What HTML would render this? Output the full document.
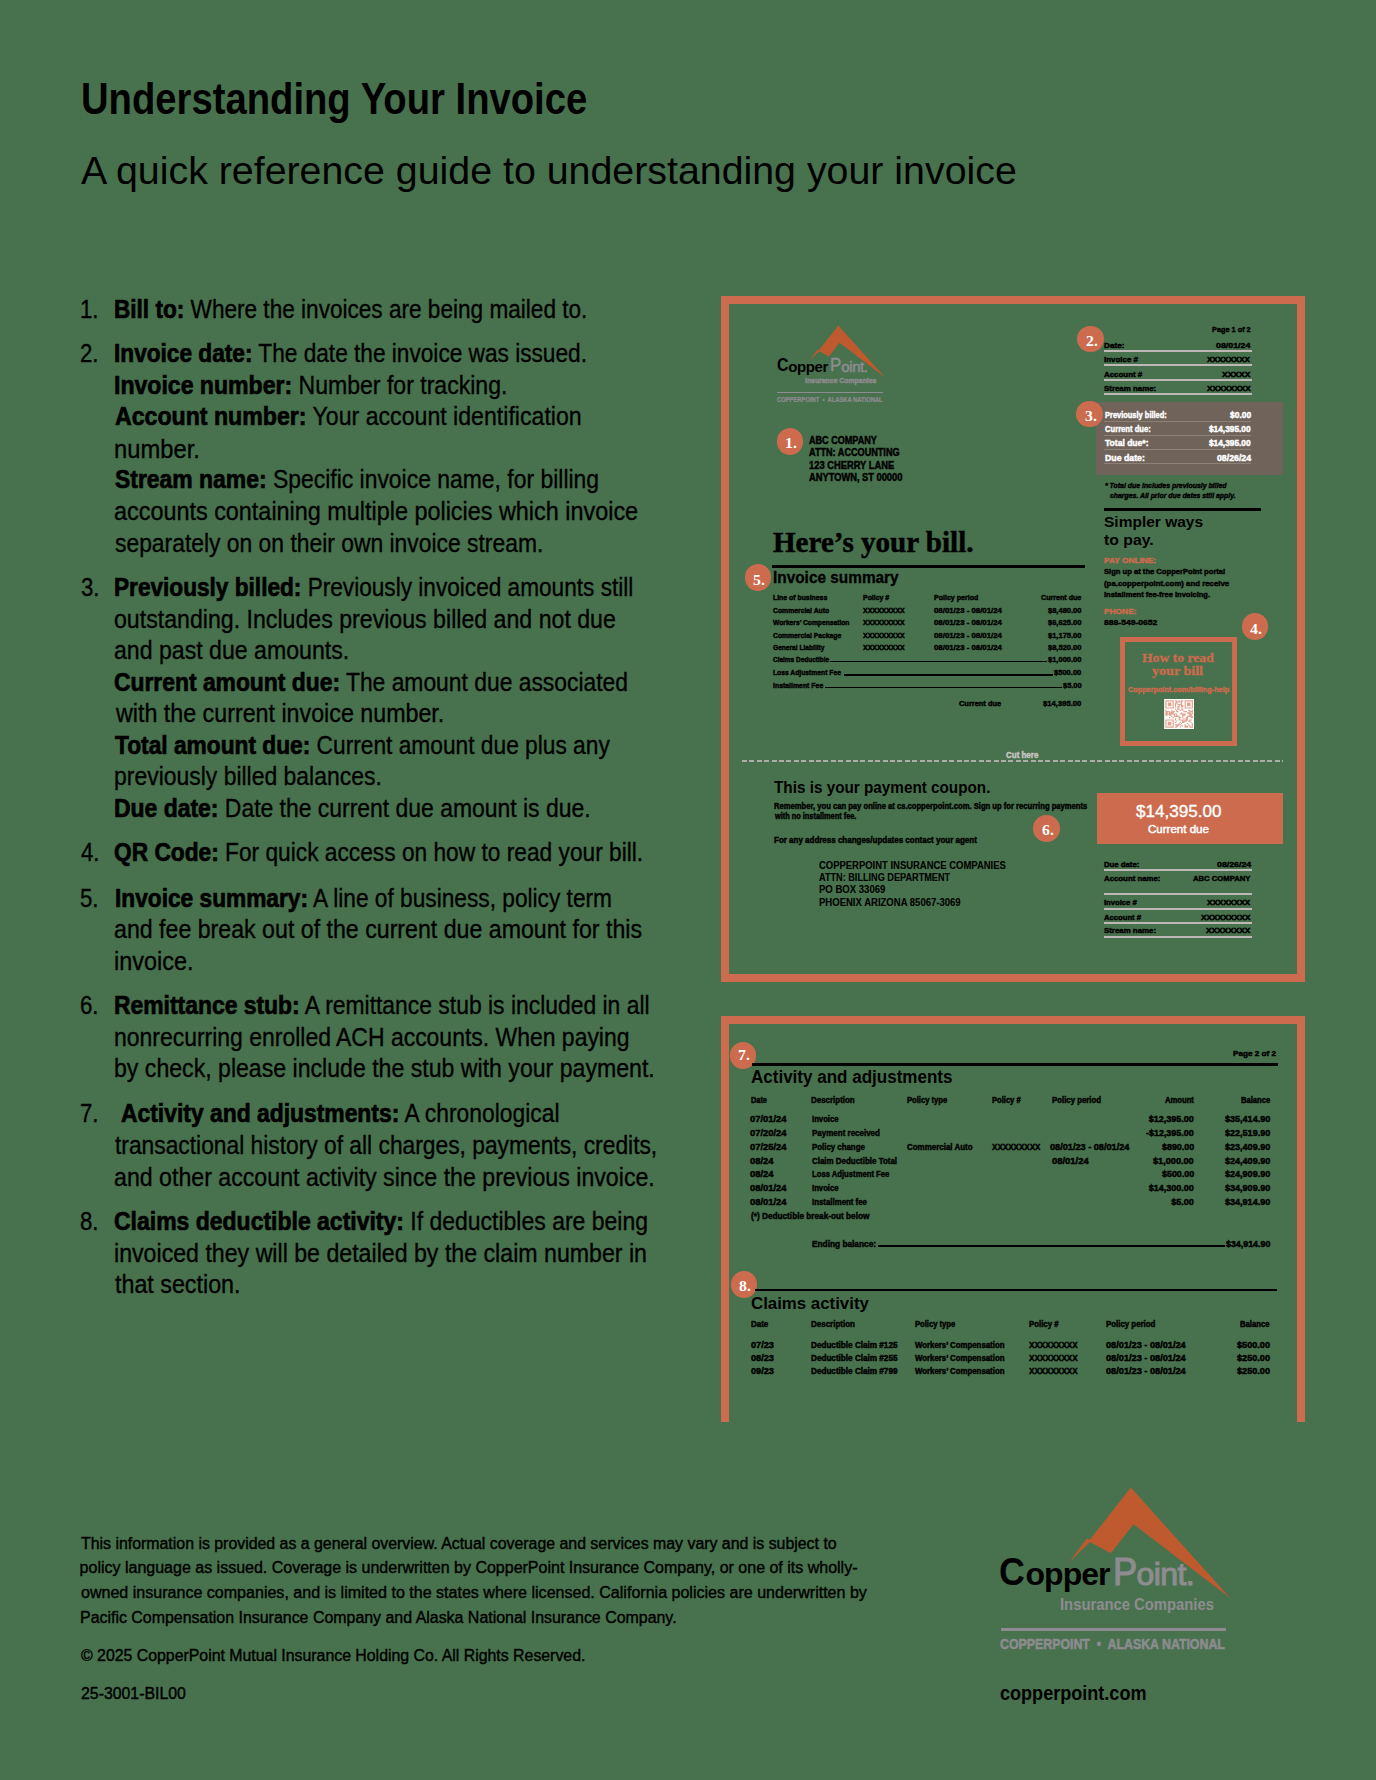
<!DOCTYPE html>
<html><head><meta charset="utf-8"><title>Understanding Your Invoice</title>
<style>
html,body{margin:0;padding:0;}
body{width:1376px;height:1780px;position:relative;overflow:hidden;background:#48724d;font-family:'Liberation Sans',sans-serif;}
.t{position:absolute;white-space:pre;line-height:1;transform-origin:0 0;}
.t b{font-weight:bold;-webkit-text-stroke:0.7px #000;}
</style></head><body>
<div style="position:absolute;left:721px;top:296px;width:584px;height:8px;background:#cd6b4e;"></div>
<div style="position:absolute;left:721px;top:296px;width:8px;height:686px;background:#cd6b4e;"></div>
<div style="position:absolute;left:1297px;top:296px;width:8px;height:686px;background:#cd6b4e;"></div>
<div style="position:absolute;left:721px;top:974px;width:584px;height:8px;background:#cd6b4e;"></div>
<svg style="position:absolute;left:804.87px;top:321.82px" width="84.74" height="58.85"><polygon points="33.33,3.58 80.13,55.55 34.60,20.81 23.92,34.46 14.12,29.24 4.38,38.70 12.52,27.64 14.12,28.06" fill="#bf5a2e"/></svg>
<div style="position:absolute;left:777.0901600000001px;top:391.59448000000003px;width:105.83583999999996px;height:1.224080000000015px;background:#8e8c91;"></div>
<div style="position:absolute;left:776.70px;top:428.20px;width:26.6px;height:26.6px;border-radius:50%;background:#cd6b4e;"></div>
<div style="position:absolute;left:1077.20px;top:325.90px;width:26.6px;height:26.6px;border-radius:50%;background:#cd6b4e;"></div>
<div style="position:absolute;left:1104px;top:350.3px;width:148px;height:2.0px;background:#bdb7b6;"></div>
<div style="position:absolute;left:1104px;top:364px;width:148px;height:2px;background:#bdb7b6;"></div>
<div style="position:absolute;left:1104px;top:379px;width:148px;height:2px;background:#bdb7b6;"></div>
<div style="position:absolute;left:1104px;top:393px;width:148px;height:2px;background:#bdb7b6;"></div>
<div style="position:absolute;left:1095.5px;top:402px;width:187.5px;height:72.69999999999999px;background:#70635a;"></div>
<div style="position:absolute;left:1076.40px;top:400.50px;width:26.6px;height:26.6px;border-radius:50%;background:#cd6b4e;"></div>
<div style="position:absolute;left:1104px;top:420.5px;width:147px;height:1.1999999999999886px;background:#8d827a;"></div>
<div style="position:absolute;left:1104px;top:434.5px;width:147px;height:1.1999999999999886px;background:#8d827a;"></div>
<div style="position:absolute;left:1104px;top:449.2px;width:147px;height:1.1999999999999886px;background:#8d827a;"></div>
<div style="position:absolute;left:1104px;top:463px;width:147px;height:1.1999999999999886px;background:#8d827a;"></div>
<div style="position:absolute;left:1104px;top:508px;width:156.5999999999999px;height:3px;background:#000;"></div>
<div style="position:absolute;left:1241.50px;top:613.40px;width:26.6px;height:26.6px;border-radius:50%;background:#cd6b4e;"></div>
<div style="position:absolute;left:1120.2px;top:637.1px;width:106.8px;height:98.7px;border:5px solid #cd6b4e;"></div>
<svg style="position:absolute;left:1163.6px;top:699.2px" width="30.3" height="30" viewBox="0 0 30.3 30.3"><rect width="30.3" height="30.3" fill="#fff"/><path d="M1.21 1.21h1.21v1.21h-1.21zM2.42 1.21h1.21v1.21h-1.21zM3.64 1.21h1.21v1.21h-1.21zM4.85 1.21h1.21v1.21h-1.21zM6.06 1.21h1.21v1.21h-1.21zM7.27 1.21h1.21v1.21h-1.21zM8.48 1.21h1.21v1.21h-1.21zM1.21 2.42h1.21v1.21h-1.21zM8.48 2.42h1.21v1.21h-1.21zM1.21 3.64h1.21v1.21h-1.21zM3.64 3.64h1.21v1.21h-1.21zM4.85 3.64h1.21v1.21h-1.21zM6.06 3.64h1.21v1.21h-1.21zM8.48 3.64h1.21v1.21h-1.21zM1.21 4.85h1.21v1.21h-1.21zM3.64 4.85h1.21v1.21h-1.21zM4.85 4.85h1.21v1.21h-1.21zM6.06 4.85h1.21v1.21h-1.21zM8.48 4.85h1.21v1.21h-1.21zM1.21 6.06h1.21v1.21h-1.21zM3.64 6.06h1.21v1.21h-1.21zM4.85 6.06h1.21v1.21h-1.21zM6.06 6.06h1.21v1.21h-1.21zM8.48 6.06h1.21v1.21h-1.21zM1.21 7.27h1.21v1.21h-1.21zM8.48 7.27h1.21v1.21h-1.21zM1.21 8.48h1.21v1.21h-1.21zM2.42 8.48h1.21v1.21h-1.21zM3.64 8.48h1.21v1.21h-1.21zM4.85 8.48h1.21v1.21h-1.21zM6.06 8.48h1.21v1.21h-1.21zM7.27 8.48h1.21v1.21h-1.21zM8.48 8.48h1.21v1.21h-1.21zM20.60 1.21h1.21v1.21h-1.21zM21.82 1.21h1.21v1.21h-1.21zM23.03 1.21h1.21v1.21h-1.21zM24.24 1.21h1.21v1.21h-1.21zM25.45 1.21h1.21v1.21h-1.21zM26.66 1.21h1.21v1.21h-1.21zM27.88 1.21h1.21v1.21h-1.21zM20.60 2.42h1.21v1.21h-1.21zM27.88 2.42h1.21v1.21h-1.21zM20.60 3.64h1.21v1.21h-1.21zM23.03 3.64h1.21v1.21h-1.21zM24.24 3.64h1.21v1.21h-1.21zM25.45 3.64h1.21v1.21h-1.21zM27.88 3.64h1.21v1.21h-1.21zM20.60 4.85h1.21v1.21h-1.21zM23.03 4.85h1.21v1.21h-1.21zM24.24 4.85h1.21v1.21h-1.21zM25.45 4.85h1.21v1.21h-1.21zM27.88 4.85h1.21v1.21h-1.21zM20.60 6.06h1.21v1.21h-1.21zM23.03 6.06h1.21v1.21h-1.21zM24.24 6.06h1.21v1.21h-1.21zM25.45 6.06h1.21v1.21h-1.21zM27.88 6.06h1.21v1.21h-1.21zM20.60 7.27h1.21v1.21h-1.21zM27.88 7.27h1.21v1.21h-1.21zM20.60 8.48h1.21v1.21h-1.21zM21.82 8.48h1.21v1.21h-1.21zM23.03 8.48h1.21v1.21h-1.21zM24.24 8.48h1.21v1.21h-1.21zM25.45 8.48h1.21v1.21h-1.21zM26.66 8.48h1.21v1.21h-1.21zM27.88 8.48h1.21v1.21h-1.21zM1.21 20.60h1.21v1.21h-1.21zM2.42 20.60h1.21v1.21h-1.21zM3.64 20.60h1.21v1.21h-1.21zM4.85 20.60h1.21v1.21h-1.21zM6.06 20.60h1.21v1.21h-1.21zM7.27 20.60h1.21v1.21h-1.21zM8.48 20.60h1.21v1.21h-1.21zM1.21 21.82h1.21v1.21h-1.21zM8.48 21.82h1.21v1.21h-1.21zM1.21 23.03h1.21v1.21h-1.21zM3.64 23.03h1.21v1.21h-1.21zM4.85 23.03h1.21v1.21h-1.21zM6.06 23.03h1.21v1.21h-1.21zM8.48 23.03h1.21v1.21h-1.21zM1.21 24.24h1.21v1.21h-1.21zM3.64 24.24h1.21v1.21h-1.21zM4.85 24.24h1.21v1.21h-1.21zM6.06 24.24h1.21v1.21h-1.21zM8.48 24.24h1.21v1.21h-1.21zM1.21 25.45h1.21v1.21h-1.21zM3.64 25.45h1.21v1.21h-1.21zM4.85 25.45h1.21v1.21h-1.21zM6.06 25.45h1.21v1.21h-1.21zM8.48 25.45h1.21v1.21h-1.21zM1.21 26.66h1.21v1.21h-1.21zM8.48 26.66h1.21v1.21h-1.21zM1.21 27.88h1.21v1.21h-1.21zM2.42 27.88h1.21v1.21h-1.21zM3.64 27.88h1.21v1.21h-1.21zM4.85 27.88h1.21v1.21h-1.21zM6.06 27.88h1.21v1.21h-1.21zM7.27 27.88h1.21v1.21h-1.21zM8.48 27.88h1.21v1.21h-1.21zM10.91 1.21h1.21v1.21h-1.21zM12.12 1.21h1.21v1.21h-1.21zM14.54 1.21h1.21v1.21h-1.21zM16.97 1.21h1.21v1.21h-1.21zM18.18 1.21h1.21v1.21h-1.21zM12.12 2.42h1.21v1.21h-1.21zM13.33 2.42h1.21v1.21h-1.21zM14.54 2.42h1.21v1.21h-1.21zM15.76 2.42h1.21v1.21h-1.21zM16.97 2.42h1.21v1.21h-1.21zM10.91 3.64h1.21v1.21h-1.21zM12.12 3.64h1.21v1.21h-1.21zM16.97 3.64h1.21v1.21h-1.21zM10.91 4.85h1.21v1.21h-1.21zM13.33 4.85h1.21v1.21h-1.21zM14.54 4.85h1.21v1.21h-1.21zM15.76 4.85h1.21v1.21h-1.21zM16.97 4.85h1.21v1.21h-1.21zM10.91 6.06h1.21v1.21h-1.21zM14.54 6.06h1.21v1.21h-1.21zM16.97 6.06h1.21v1.21h-1.21zM18.18 6.06h1.21v1.21h-1.21zM10.91 7.27h1.21v1.21h-1.21zM13.33 7.27h1.21v1.21h-1.21zM14.54 7.27h1.21v1.21h-1.21zM16.97 7.27h1.21v1.21h-1.21zM18.18 7.27h1.21v1.21h-1.21zM13.33 8.48h1.21v1.21h-1.21zM10.91 9.70h1.21v1.21h-1.21zM13.33 9.70h1.21v1.21h-1.21zM14.54 9.70h1.21v1.21h-1.21zM16.97 9.70h1.21v1.21h-1.21zM18.18 9.70h1.21v1.21h-1.21zM1.21 10.91h1.21v1.21h-1.21zM7.27 10.91h1.21v1.21h-1.21zM12.12 10.91h1.21v1.21h-1.21zM15.76 10.91h1.21v1.21h-1.21zM18.18 10.91h1.21v1.21h-1.21zM24.24 10.91h1.21v1.21h-1.21zM25.45 10.91h1.21v1.21h-1.21zM27.88 10.91h1.21v1.21h-1.21zM1.21 12.12h1.21v1.21h-1.21zM2.42 12.12h1.21v1.21h-1.21zM3.64 12.12h1.21v1.21h-1.21zM4.85 12.12h1.21v1.21h-1.21zM7.27 12.12h1.21v1.21h-1.21zM8.48 12.12h1.21v1.21h-1.21zM9.70 12.12h1.21v1.21h-1.21zM12.12 12.12h1.21v1.21h-1.21zM13.33 12.12h1.21v1.21h-1.21zM19.39 12.12h1.21v1.21h-1.21zM20.60 12.12h1.21v1.21h-1.21zM21.82 12.12h1.21v1.21h-1.21zM25.45 12.12h1.21v1.21h-1.21zM26.66 12.12h1.21v1.21h-1.21zM27.88 12.12h1.21v1.21h-1.21zM1.21 13.33h1.21v1.21h-1.21zM2.42 13.33h1.21v1.21h-1.21zM4.85 13.33h1.21v1.21h-1.21zM6.06 13.33h1.21v1.21h-1.21zM7.27 13.33h1.21v1.21h-1.21zM8.48 13.33h1.21v1.21h-1.21zM16.97 13.33h1.21v1.21h-1.21zM23.03 13.33h1.21v1.21h-1.21zM24.24 13.33h1.21v1.21h-1.21zM25.45 13.33h1.21v1.21h-1.21zM27.88 13.33h1.21v1.21h-1.21zM1.21 14.54h1.21v1.21h-1.21zM2.42 14.54h1.21v1.21h-1.21zM3.64 14.54h1.21v1.21h-1.21zM4.85 14.54h1.21v1.21h-1.21zM6.06 14.54h1.21v1.21h-1.21zM7.27 14.54h1.21v1.21h-1.21zM8.48 14.54h1.21v1.21h-1.21zM9.70 14.54h1.21v1.21h-1.21zM10.91 14.54h1.21v1.21h-1.21zM12.12 14.54h1.21v1.21h-1.21zM15.76 14.54h1.21v1.21h-1.21zM16.97 14.54h1.21v1.21h-1.21zM18.18 14.54h1.21v1.21h-1.21zM19.39 14.54h1.21v1.21h-1.21zM20.60 14.54h1.21v1.21h-1.21zM24.24 14.54h1.21v1.21h-1.21zM25.45 14.54h1.21v1.21h-1.21zM26.66 14.54h1.21v1.21h-1.21zM27.88 14.54h1.21v1.21h-1.21zM1.21 15.76h1.21v1.21h-1.21zM2.42 15.76h1.21v1.21h-1.21zM4.85 15.76h1.21v1.21h-1.21zM6.06 15.76h1.21v1.21h-1.21zM9.70 15.76h1.21v1.21h-1.21zM12.12 15.76h1.21v1.21h-1.21zM18.18 15.76h1.21v1.21h-1.21zM19.39 15.76h1.21v1.21h-1.21zM20.60 15.76h1.21v1.21h-1.21zM25.45 15.76h1.21v1.21h-1.21zM26.66 15.76h1.21v1.21h-1.21zM7.27 16.97h1.21v1.21h-1.21zM9.70 16.97h1.21v1.21h-1.21zM10.91 16.97h1.21v1.21h-1.21zM12.12 16.97h1.21v1.21h-1.21zM13.33 16.97h1.21v1.21h-1.21zM14.54 16.97h1.21v1.21h-1.21zM18.18 16.97h1.21v1.21h-1.21zM23.03 16.97h1.21v1.21h-1.21zM24.24 16.97h1.21v1.21h-1.21zM25.45 16.97h1.21v1.21h-1.21zM26.66 16.97h1.21v1.21h-1.21zM27.88 16.97h1.21v1.21h-1.21zM4.85 18.18h1.21v1.21h-1.21zM8.48 18.18h1.21v1.21h-1.21zM14.54 18.18h1.21v1.21h-1.21zM15.76 18.18h1.21v1.21h-1.21zM18.18 18.18h1.21v1.21h-1.21zM21.82 18.18h1.21v1.21h-1.21zM23.03 18.18h1.21v1.21h-1.21zM26.66 18.18h1.21v1.21h-1.21zM27.88 18.18h1.21v1.21h-1.21zM10.91 19.39h1.21v1.21h-1.21zM14.54 19.39h1.21v1.21h-1.21zM19.39 19.39h1.21v1.21h-1.21zM21.82 19.39h1.21v1.21h-1.21zM23.03 19.39h1.21v1.21h-1.21zM10.91 20.60h1.21v1.21h-1.21zM14.54 20.60h1.21v1.21h-1.21zM15.76 20.60h1.21v1.21h-1.21zM16.97 20.60h1.21v1.21h-1.21zM18.18 20.60h1.21v1.21h-1.21zM20.60 20.60h1.21v1.21h-1.21zM21.82 20.60h1.21v1.21h-1.21zM23.03 20.60h1.21v1.21h-1.21zM25.45 20.60h1.21v1.21h-1.21zM26.66 20.60h1.21v1.21h-1.21zM12.12 21.82h1.21v1.21h-1.21zM18.18 21.82h1.21v1.21h-1.21zM19.39 21.82h1.21v1.21h-1.21zM20.60 21.82h1.21v1.21h-1.21zM21.82 21.82h1.21v1.21h-1.21zM24.24 21.82h1.21v1.21h-1.21zM25.45 21.82h1.21v1.21h-1.21zM10.91 23.03h1.21v1.21h-1.21zM15.76 23.03h1.21v1.21h-1.21zM18.18 23.03h1.21v1.21h-1.21zM19.39 23.03h1.21v1.21h-1.21zM26.66 23.03h1.21v1.21h-1.21zM14.54 24.24h1.21v1.21h-1.21zM16.97 24.24h1.21v1.21h-1.21zM23.03 24.24h1.21v1.21h-1.21zM27.88 24.24h1.21v1.21h-1.21zM10.91 25.45h1.21v1.21h-1.21zM12.12 25.45h1.21v1.21h-1.21zM13.33 25.45h1.21v1.21h-1.21zM14.54 25.45h1.21v1.21h-1.21zM15.76 25.45h1.21v1.21h-1.21zM20.60 25.45h1.21v1.21h-1.21zM24.24 25.45h1.21v1.21h-1.21zM27.88 25.45h1.21v1.21h-1.21zM12.12 26.66h1.21v1.21h-1.21zM13.33 26.66h1.21v1.21h-1.21zM16.97 26.66h1.21v1.21h-1.21zM18.18 26.66h1.21v1.21h-1.21zM20.60 26.66h1.21v1.21h-1.21zM21.82 26.66h1.21v1.21h-1.21zM23.03 26.66h1.21v1.21h-1.21zM25.45 26.66h1.21v1.21h-1.21zM27.88 26.66h1.21v1.21h-1.21zM10.91 27.88h1.21v1.21h-1.21zM12.12 27.88h1.21v1.21h-1.21zM15.76 27.88h1.21v1.21h-1.21zM20.60 27.88h1.21v1.21h-1.21zM21.82 27.88h1.21v1.21h-1.21zM23.03 27.88h1.21v1.21h-1.21zM25.45 27.88h1.21v1.21h-1.21zM26.66 27.88h1.21v1.21h-1.21zM27.88 27.88h1.21v1.21h-1.21z" fill="#e2a48f"/></svg>
<div style="position:absolute;left:772.2px;top:565px;width:312.79999999999995px;height:3px;background:#000;"></div>
<div style="position:absolute;left:744.90px;top:564.30px;width:26.6px;height:26.6px;border-radius:50%;background:#cd6b4e;"></div>
<div style="position:absolute;left:830px;top:660.9px;width:217px;height:1.6000000000000227px;background:#000;"></div>
<div style="position:absolute;left:844px;top:674.1px;width:209px;height:1.6000000000000227px;background:#000;"></div>
<div style="position:absolute;left:825px;top:686.5px;width:237px;height:1.6000000000000227px;background:#000;"></div>
<div style="position:absolute;left:742px;top:760px;width:541px;height:2px;background:repeating-linear-gradient(90deg,#bdb8b6 0 5px,transparent 5px 7.4px);opacity:0.85;"></div>
<div style="position:absolute;left:1033.40px;top:815.00px;width:26.6px;height:26.6px;border-radius:50%;background:#cd6b4e;"></div>
<div style="position:absolute;left:1097px;top:793px;width:186.29999999999995px;height:50.89999999999998px;background:#cd6b4e;"></div>
<div style="position:absolute;left:1104px;top:869px;width:147.79999999999995px;height:2px;background:#bdb7b6;"></div>
<div style="position:absolute;left:1104px;top:893px;width:147.79999999999995px;height:2px;background:#bdb7b6;"></div>
<div style="position:absolute;left:1104px;top:908.3px;width:147.79999999999995px;height:2.0px;background:#bdb7b6;"></div>
<div style="position:absolute;left:1104px;top:922px;width:147.79999999999995px;height:2px;background:#bdb7b6;"></div>
<div style="position:absolute;left:1104px;top:936px;width:147.79999999999995px;height:2px;background:#bdb7b6;"></div>
<div style="position:absolute;left:721px;top:1016px;width:584px;height:8px;background:#cd6b4e;"></div>
<div style="position:absolute;left:721px;top:1016px;width:8px;height:406px;background:#cd6b4e;"></div>
<div style="position:absolute;left:1297px;top:1016px;width:8px;height:406px;background:#cd6b4e;"></div>
<div style="position:absolute;left:729.90px;top:1042.10px;width:26.6px;height:26.6px;border-radius:50%;background:#cd6b4e;"></div>
<div style="position:absolute;left:751.7px;top:1063px;width:525.8999999999999px;height:3px;background:#000;"></div>
<div style="position:absolute;left:878px;top:1245px;width:347px;height:1.599999999999909px;background:#000;"></div>
<div style="position:absolute;left:730.80px;top:1271.20px;width:26.6px;height:26.6px;border-radius:50%;background:#cd6b4e;"></div>
<div style="position:absolute;left:754.6px;top:1289px;width:522.9px;height:2px;background:#000;"></div>
<svg style="position:absolute;left:1060.00px;top:1480.00px" width="180.00" height="125.00"><polygon points="70.80,7.60 170.20,118.00 73.50,44.20 50.80,73.20 30.00,62.10 9.30,82.20 26.60,58.70 30.00,59.60" fill="#bf5a2e"/></svg>
<div style="position:absolute;left:1001.0px;top:1628.2px;width:224.79999999999995px;height:2.599999999999909px;background:#8e8c91;"></div>
<div class="t" style="left:80.84px;top:78.08px;font-size:43.5px;font-family:'Liberation Sans',sans-serif;font-weight:bold;color:#000;transform:scaleX(0.8788);">Understanding Your Invoice</div>
<div class="t" style="left:81.20px;top:151.06px;font-size:39.5px;font-family:'Liberation Sans',sans-serif;font-weight:normal;color:#000;transform:scaleX(0.9957);">A quick reference guide to understanding your invoice</div>
<div class="t" style="left:79.63px;top:297.11px;font-size:25.5px;font-family:'Liberation Sans',sans-serif;font-weight:normal;color:#000;transform:scaleX(0.8700);-webkit-text-stroke:0.35px #000;">1.</div>
<div class="t" style="left:114.11px;top:297.11px;font-size:25.5px;font-family:'Liberation Sans',sans-serif;font-weight:normal;color:#000;transform:scaleX(0.8859);-webkit-text-stroke:0.35px #000;"><b>Bill to:</b> Where the invoices are being mailed to.</div>
<div class="t" style="left:79.63px;top:341.31px;font-size:25.5px;font-family:'Liberation Sans',sans-serif;font-weight:normal;color:#000;transform:scaleX(0.8700);-webkit-text-stroke:0.35px #000;">2.</div>
<div class="t" style="left:114.11px;top:341.31px;font-size:25.5px;font-family:'Liberation Sans',sans-serif;font-weight:normal;color:#000;transform:scaleX(0.8882);-webkit-text-stroke:0.35px #000;"><b>Invoice date:</b> The date the invoice was issued.</div>
<div class="t" style="left:114.10px;top:373.01px;font-size:25.5px;font-family:'Liberation Sans',sans-serif;font-weight:normal;color:#000;transform:scaleX(0.9043);-webkit-text-stroke:0.35px #000;"><b>Invoice number:</b> Number for tracking.</div>
<div class="t" style="left:115.00px;top:403.71px;font-size:25.5px;font-family:'Liberation Sans',sans-serif;font-weight:normal;color:#000;transform:scaleX(0.9071);-webkit-text-stroke:0.35px #000;"><b>Account number:</b> Your account identification</div>
<div class="t" style="left:114.07px;top:436.71px;font-size:25.5px;font-family:'Liberation Sans',sans-serif;font-weight:normal;color:#000;transform:scaleX(0.9320);-webkit-text-stroke:0.35px #000;">number.</div>
<div class="t" style="left:115.00px;top:467.31px;font-size:25.5px;font-family:'Liberation Sans',sans-serif;font-weight:normal;color:#000;transform:scaleX(0.8988);-webkit-text-stroke:0.35px #000;"><b>Stream name:</b> Specific invoice name, for billing</div>
<div class="t" style="left:114.08px;top:499.01px;font-size:25.5px;font-family:'Liberation Sans',sans-serif;font-weight:normal;color:#000;transform:scaleX(0.9175);-webkit-text-stroke:0.35px #000;">accounts containing multiple policies which invoice</div>
<div class="t" style="left:115.00px;top:531.11px;font-size:25.5px;font-family:'Liberation Sans',sans-serif;font-weight:normal;color:#000;transform:scaleX(0.8966);-webkit-text-stroke:0.35px #000;">separately on on their own invoice stream.</div>
<div class="t" style="left:80.50px;top:575.41px;font-size:25.5px;font-family:'Liberation Sans',sans-serif;font-weight:normal;color:#000;transform:scaleX(0.8700);-webkit-text-stroke:0.35px #000;">3.</div>
<div class="t" style="left:114.11px;top:575.41px;font-size:25.5px;font-family:'Liberation Sans',sans-serif;font-weight:normal;color:#000;transform:scaleX(0.8873);-webkit-text-stroke:0.35px #000;"><b>Previously billed:</b> Previously invoiced amounts still</div>
<div class="t" style="left:114.09px;top:607.01px;font-size:25.5px;font-family:'Liberation Sans',sans-serif;font-weight:normal;color:#000;transform:scaleX(0.9077);-webkit-text-stroke:0.35px #000;">outstanding. Includes previous billed and not due</div>
<div class="t" style="left:114.09px;top:638.11px;font-size:25.5px;font-family:'Liberation Sans',sans-serif;font-weight:normal;color:#000;transform:scaleX(0.9066);-webkit-text-stroke:0.35px #000;">and past due amounts.</div>
<div class="t" style="left:114.10px;top:669.71px;font-size:25.5px;font-family:'Liberation Sans',sans-serif;font-weight:normal;color:#000;transform:scaleX(0.8962);-webkit-text-stroke:0.35px #000;"><b>Current amount due:</b> The amount due associated</div>
<div class="t" style="left:115.91px;top:701.31px;font-size:25.5px;font-family:'Liberation Sans',sans-serif;font-weight:normal;color:#000;transform:scaleX(0.9119);-webkit-text-stroke:0.35px #000;">with the current invoice number.</div>
<div class="t" style="left:115.00px;top:733.01px;font-size:25.5px;font-family:'Liberation Sans',sans-serif;font-weight:normal;color:#000;transform:scaleX(0.8914);-webkit-text-stroke:0.35px #000;"><b>Total amount due:</b> Current amount due plus any</div>
<div class="t" style="left:114.10px;top:764.21px;font-size:25.5px;font-family:'Liberation Sans',sans-serif;font-weight:normal;color:#000;transform:scaleX(0.8996);-webkit-text-stroke:0.35px #000;">previously billed balances.</div>
<div class="t" style="left:114.10px;top:796.01px;font-size:25.5px;font-family:'Liberation Sans',sans-serif;font-weight:normal;color:#000;transform:scaleX(0.8990);-webkit-text-stroke:0.35px #000;"><b>Due date:</b> Date the current due amount is due.</div>
<div class="t" style="left:80.50px;top:840.01px;font-size:25.5px;font-family:'Liberation Sans',sans-serif;font-weight:normal;color:#000;transform:scaleX(0.8700);-webkit-text-stroke:0.35px #000;">4.</div>
<div class="t" style="left:114.11px;top:840.01px;font-size:25.5px;font-family:'Liberation Sans',sans-serif;font-weight:normal;color:#000;transform:scaleX(0.8911);-webkit-text-stroke:0.35px #000;"><b>QR Code:</b> For quick access on how to read your bill.</div>
<div class="t" style="left:79.63px;top:886.31px;font-size:25.5px;font-family:'Liberation Sans',sans-serif;font-weight:normal;color:#000;transform:scaleX(0.8700);-webkit-text-stroke:0.35px #000;">5.</div>
<div class="t" style="left:115.11px;top:886.31px;font-size:25.5px;font-family:'Liberation Sans',sans-serif;font-weight:normal;color:#000;transform:scaleX(0.8900);-webkit-text-stroke:0.35px #000;"><b>Invoice summary:</b> A line of business, policy term</div>
<div class="t" style="left:114.09px;top:917.31px;font-size:25.5px;font-family:'Liberation Sans',sans-serif;font-weight:normal;color:#000;transform:scaleX(0.9085);-webkit-text-stroke:0.35px #000;">and fee break out of the current due amount for this</div>
<div class="t" style="left:114.08px;top:948.51px;font-size:25.5px;font-family:'Liberation Sans',sans-serif;font-weight:normal;color:#000;transform:scaleX(0.9187);-webkit-text-stroke:0.35px #000;">invoice.</div>
<div class="t" style="left:79.63px;top:993.31px;font-size:25.5px;font-family:'Liberation Sans',sans-serif;font-weight:normal;color:#000;transform:scaleX(0.8700);-webkit-text-stroke:0.35px #000;">6.</div>
<div class="t" style="left:114.10px;top:993.31px;font-size:25.5px;font-family:'Liberation Sans',sans-serif;font-weight:normal;color:#000;transform:scaleX(0.8976);-webkit-text-stroke:0.35px #000;"><b>Remittance stub:</b> A remittance stub is included in all</div>
<div class="t" style="left:114.10px;top:1025.41px;font-size:25.5px;font-family:'Liberation Sans',sans-serif;font-weight:normal;color:#000;transform:scaleX(0.9002);-webkit-text-stroke:0.35px #000;">nonrecurring enrolled ACH accounts. When paying</div>
<div class="t" style="left:114.09px;top:1055.91px;font-size:25.5px;font-family:'Liberation Sans',sans-serif;font-weight:normal;color:#000;transform:scaleX(0.9062);-webkit-text-stroke:0.35px #000;">by check, please include the stub with your payment.</div>
<div class="t" style="left:79.63px;top:1101.21px;font-size:25.5px;font-family:'Liberation Sans',sans-serif;font-weight:normal;color:#000;transform:scaleX(0.8700);-webkit-text-stroke:0.35px #000;">7.</div>
<div class="t" style="left:120.50px;top:1101.21px;font-size:25.5px;font-family:'Liberation Sans',sans-serif;font-weight:normal;color:#000;transform:scaleX(0.8968);-webkit-text-stroke:0.35px #000;"><b>Activity and adjustments:</b> A chronological</div>
<div class="t" style="left:115.00px;top:1133.21px;font-size:25.5px;font-family:'Liberation Sans',sans-serif;font-weight:normal;color:#000;transform:scaleX(0.8938);-webkit-text-stroke:0.35px #000;">transactional history of all charges, payments, credits,</div>
<div class="t" style="left:114.09px;top:1164.81px;font-size:25.5px;font-family:'Liberation Sans',sans-serif;font-weight:normal;color:#000;transform:scaleX(0.9084);-webkit-text-stroke:0.35px #000;">and other account activity since the previous invoice.</div>
<div class="t" style="left:79.63px;top:1209.31px;font-size:25.5px;font-family:'Liberation Sans',sans-serif;font-weight:normal;color:#000;transform:scaleX(0.8700);-webkit-text-stroke:0.35px #000;">8.</div>
<div class="t" style="left:114.10px;top:1209.31px;font-size:25.5px;font-family:'Liberation Sans',sans-serif;font-weight:normal;color:#000;transform:scaleX(0.9013);-webkit-text-stroke:0.35px #000;"><b>Claims deductible activity:</b> If deductibles are being</div>
<div class="t" style="left:114.09px;top:1241.21px;font-size:25.5px;font-family:'Liberation Sans',sans-serif;font-weight:normal;color:#000;transform:scaleX(0.9083);-webkit-text-stroke:0.35px #000;">invoiced they will be detailed by the claim number in</div>
<div class="t" style="left:115.00px;top:1271.81px;font-size:25.5px;font-family:'Liberation Sans',sans-serif;font-weight:normal;color:#000;transform:scaleX(0.9128);-webkit-text-stroke:0.35px #000;">that section.</div>
<div class="t" style="left:80.60px;top:1535.86px;font-size:16px;font-family:'Liberation Sans',sans-serif;font-weight:normal;color:#000;transform:scaleX(0.9926);-webkit-text-stroke:0.4px #000;">This information is provided as a general overview. Actual coverage and services may vary and is subject to</div>
<div class="t" style="left:79.60px;top:1559.96px;font-size:16px;font-family:'Liberation Sans',sans-serif;font-weight:normal;color:#000;-webkit-text-stroke:0.4px #000;">policy language as issued. Coverage is underwritten by CopperPoint Insurance Company, or one of its wholly-</div>
<div class="t" style="left:80.60px;top:1585.36px;font-size:16px;font-family:'Liberation Sans',sans-serif;font-weight:normal;color:#000;transform:scaleX(1.0030);-webkit-text-stroke:0.4px #000;">owned insurance companies, and is limited to the states where licensed. California policies are underwritten by</div>
<div class="t" style="left:79.60px;top:1610.06px;font-size:16px;font-family:'Liberation Sans',sans-serif;font-weight:normal;color:#000;transform:scaleX(0.9957);-webkit-text-stroke:0.4px #000;">Pacific Compensation Insurance Company and Alaska National Insurance Company.</div>
<div class="t" style="left:80.60px;top:1648.36px;font-size:16px;font-family:'Liberation Sans',sans-serif;font-weight:normal;color:#000;transform:scaleX(0.9910);-webkit-text-stroke:0.4px #000;">© 2025 CopperPoint Mutual Insurance Holding Co. All Rights Reserved.</div>
<div class="t" style="left:80.60px;top:1686.36px;font-size:16px;font-family:'Liberation Sans',sans-serif;font-weight:normal;color:#000;transform:scaleX(0.9909);-webkit-text-stroke:0.4px #000;">25-3001-BIL00</div>
<div class="t" style="left:776.62px;top:356.78px;font-size:17.8904px;font-family:'Liberation Sans',sans-serif;font-weight:bold;color:#000;transform:scaleX(0.8873);">C</div>
<div class="t" style="left:788.30px;top:359.17px;font-size:15.0656px;font-family:'Liberation Sans',sans-serif;font-weight:bold;color:#000;letter-spacing:-0.458px;">opper</div>
<div class="t" style="left:830.01px;top:356.78px;font-size:17.8904px;font-family:'Liberation Sans',sans-serif;font-weight:normal;color:#8e8c91;transform:scaleX(0.9416);-webkit-text-stroke:0.52px #8e8c91;">P</div>
<div class="t" style="left:841.35px;top:359.17px;font-size:15.0656px;font-family:'Liberation Sans',sans-serif;font-weight:normal;color:#8e8c91;letter-spacing:-0.436px;-webkit-text-stroke:0.52px #8e8c91;">oint.</div>
<div class="t" style="left:805.43px;top:376.96px;font-size:8.0036px;font-family:'Liberation Sans',sans-serif;font-weight:bold;color:#8e8c91;transform:scaleX(0.8585);-webkit-text-stroke:0.45px #8e8c91;">Insurance Companies</div>
<div class="t" style="left:776.81px;top:396.55px;font-size:6.49704px;font-family:'Liberation Sans',sans-serif;font-weight:bold;color:#8e8c91;transform:scaleX(0.8951);-webkit-text-stroke:0.24px #8e8c91;">COPPERPOINT  •  ALASKA NATIONAL</div>
<div class="t" style="left:784.50px;top:436.47px;font-size:14.6px;font-family:'Liberation Serif',serif;font-weight:bold;color:#fff;transform:scaleX(1.0800);">1.</div>
<div class="t" style="left:809.20px;top:435.83px;font-size:10px;font-family:'Liberation Sans',sans-serif;font-weight:bold;color:#000;transform:scaleX(0.9076);-webkit-text-stroke:0.45px #000;">ABC COMPANY</div>
<div class="t" style="left:809.20px;top:448.23px;font-size:10px;font-family:'Liberation Sans',sans-serif;font-weight:bold;color:#000;transform:scaleX(0.9108);-webkit-text-stroke:0.45px #000;">ATTN: ACCOUNTING</div>
<div class="t" style="left:809.20px;top:460.63px;font-size:10px;font-family:'Liberation Sans',sans-serif;font-weight:bold;color:#000;transform:scaleX(0.9340);-webkit-text-stroke:0.45px #000;">123 CHERRY LANE</div>
<div class="t" style="left:809.20px;top:473.03px;font-size:10px;font-family:'Liberation Sans',sans-serif;font-weight:bold;color:#000;transform:scaleX(0.9302);-webkit-text-stroke:0.45px #000;">ANYTOWN, ST 00000</div>
<div class="t" style="left:1211.80px;top:325.93px;font-size:8px;font-family:'Liberation Sans',sans-serif;font-weight:bold;color:#000;transform:scaleX(0.9161);-webkit-text-stroke:0.45px #000;">Page 1 of 2</div>
<div class="t" style="left:1085.54px;top:334.17px;font-size:14.6px;font-family:'Liberation Serif',serif;font-weight:bold;color:#fff;transform:scaleX(1.0800);">2.</div>
<div class="t" style="left:1104.00px;top:342.03px;font-size:8px;font-family:'Liberation Sans',sans-serif;font-weight:bold;color:#000;transform:scaleX(1.0186);-webkit-text-stroke:0.45px #000;">Date:</div>
<div class="t" style="left:1216.00px;top:342.03px;font-size:8px;font-family:'Liberation Sans',sans-serif;font-weight:bold;color:#000;transform:scaleX(1.1044);-webkit-text-stroke:0.45px #000;">08/01/24</div>
<div class="t" style="left:1104.00px;top:355.93px;font-size:8px;font-family:'Liberation Sans',sans-serif;font-weight:bold;color:#000;transform:scaleX(0.9917);-webkit-text-stroke:0.45px #000;">Invoice #</div>
<div class="t" style="left:1207.40px;top:355.93px;font-size:8px;font-family:'Liberation Sans',sans-serif;font-weight:bold;color:#000;transform:scaleX(1.0057);-webkit-text-stroke:0.45px #000;">XXXXXXXX</div>
<div class="t" style="left:1104.00px;top:370.93px;font-size:8px;font-family:'Liberation Sans',sans-serif;font-weight:bold;color:#000;transform:scaleX(0.9892);-webkit-text-stroke:0.45px #000;">Account #</div>
<div class="t" style="left:1222.00px;top:370.93px;font-size:8px;font-family:'Liberation Sans',sans-serif;font-weight:bold;color:#000;transform:scaleX(1.0606);-webkit-text-stroke:0.45px #000;">XXXXX</div>
<div class="t" style="left:1104.00px;top:384.73px;font-size:8px;font-family:'Liberation Sans',sans-serif;font-weight:bold;color:#000;transform:scaleX(0.9876);-webkit-text-stroke:0.45px #000;">Stream name:</div>
<div class="t" style="left:1206.50px;top:384.73px;font-size:8px;font-family:'Liberation Sans',sans-serif;font-weight:bold;color:#000;transform:scaleX(1.0265);-webkit-text-stroke:0.45px #000;">XXXXXXXX</div>
<div class="t" style="left:1084.74px;top:408.77px;font-size:14.6px;font-family:'Liberation Serif',serif;font-weight:bold;color:#fff;transform:scaleX(1.0800);">3.</div>
<div class="t" style="left:1104.50px;top:411.28px;font-size:9px;font-family:'Liberation Sans',sans-serif;font-weight:bold;color:#fff;transform:scaleX(0.8292);-webkit-text-stroke:0.45px #fff;">Previously billed:</div>
<div class="t" style="left:1229.50px;top:411.28px;font-size:9px;font-family:'Liberation Sans',sans-serif;font-weight:bold;color:#fff;transform:scaleX(0.9371);-webkit-text-stroke:0.45px #fff;">$0.00</div>
<div class="t" style="left:1104.50px;top:424.58px;font-size:9px;font-family:'Liberation Sans',sans-serif;font-weight:bold;color:#fff;transform:scaleX(0.8481);-webkit-text-stroke:0.45px #fff;">Current due:</div>
<div class="t" style="left:1209.00px;top:424.58px;font-size:9px;font-family:'Liberation Sans',sans-serif;font-weight:bold;color:#fff;transform:scaleX(0.9237);-webkit-text-stroke:0.45px #fff;">$14,395.00</div>
<div class="t" style="left:1104.50px;top:439.18px;font-size:9px;font-family:'Liberation Sans',sans-serif;font-weight:bold;color:#fff;transform:scaleX(0.9491);-webkit-text-stroke:0.45px #fff;">Total due*:</div>
<div class="t" style="left:1209.00px;top:439.18px;font-size:9px;font-family:'Liberation Sans',sans-serif;font-weight:bold;color:#fff;transform:scaleX(0.9237);-webkit-text-stroke:0.45px #fff;">$14,395.00</div>
<div class="t" style="left:1104.50px;top:453.68px;font-size:9px;font-family:'Liberation Sans',sans-serif;font-weight:bold;color:#fff;transform:scaleX(0.9730);-webkit-text-stroke:0.45px #fff;">Due date:</div>
<div class="t" style="left:1216.50px;top:453.68px;font-size:9px;font-family:'Liberation Sans',sans-serif;font-weight:bold;color:#fff;transform:scaleX(0.9735);-webkit-text-stroke:0.45px #fff;">08/26/24</div>
<div class="t" style="left:1105.00px;top:482.13px;font-size:8px;font-family:'Liberation Sans',sans-serif;font-weight:bold;color:#000;font-style:italic;transform:scaleX(0.8636);-webkit-text-stroke:0.45px #000;">* Total due includes previously billed</div>
<div class="t" style="left:1109.60px;top:492.33px;font-size:8px;font-family:'Liberation Sans',sans-serif;font-weight:bold;color:#000;font-style:italic;transform:scaleX(0.8599);-webkit-text-stroke:0.45px #000;">charges. All prior due dates still apply.</div>
<div class="t" style="left:1104.00px;top:513.68px;font-size:15.5px;font-family:'Liberation Sans',sans-serif;font-weight:bold;color:#000;">Simpler ways</div>
<div class="t" style="left:1104.00px;top:532.08px;font-size:15.5px;font-family:'Liberation Sans',sans-serif;font-weight:bold;color:#000;transform:scaleX(1.0166);">to pay.</div>
<div class="t" style="left:1104.00px;top:556.73px;font-size:8px;font-family:'Liberation Sans',sans-serif;font-weight:bold;color:#cd6b4e;transform:scaleX(1.0410);-webkit-text-stroke:0.45px #cd6b4e;">PAY ONLINE:</div>
<div class="t" style="left:1104.00px;top:568.13px;font-size:8px;font-family:'Liberation Sans',sans-serif;font-weight:bold;color:#000;transform:scaleX(0.9503);-webkit-text-stroke:0.45px #000;">Sign up at the CopperPoint portal</div>
<div class="t" style="left:1104.00px;top:579.63px;font-size:8px;font-family:'Liberation Sans',sans-serif;font-weight:bold;color:#000;transform:scaleX(0.9776);-webkit-text-stroke:0.45px #000;">(pa.copperpoint.com) and receive</div>
<div class="t" style="left:1104.00px;top:591.03px;font-size:8px;font-family:'Liberation Sans',sans-serif;font-weight:bold;color:#000;transform:scaleX(0.9388);-webkit-text-stroke:0.45px #000;">installment fee-free invoicing.</div>
<div class="t" style="left:1104.00px;top:607.83px;font-size:8px;font-family:'Liberation Sans',sans-serif;font-weight:bold;color:#cd6b4e;transform:scaleX(1.0444);-webkit-text-stroke:0.45px #cd6b4e;">PHONE:</div>
<div class="t" style="left:1104.00px;top:619.33px;font-size:8px;font-family:'Liberation Sans',sans-serif;font-weight:bold;color:#000;transform:scaleX(1.0701);-webkit-text-stroke:0.45px #000;">888-549-0652</div>
<div class="t" style="left:1249.84px;top:621.67px;font-size:14.6px;font-family:'Liberation Serif',serif;font-weight:bold;color:#fff;transform:scaleX(1.0800);">4.</div>
<div class="t" style="left:1142.40px;top:651.51px;font-size:12.4px;font-family:'Liberation Serif',serif;font-weight:bold;color:#cd6b4e;transform:scaleX(1.1016);-webkit-text-stroke:0.3px #cd6b4e;">How to read</div>
<div class="t" style="left:1151.70px;top:665.31px;font-size:12.4px;font-family:'Liberation Serif',serif;font-weight:bold;color:#cd6b4e;transform:scaleX(1.1368);-webkit-text-stroke:0.3px #cd6b4e;">your bill</div>
<div class="t" style="left:1128.30px;top:685.73px;font-size:8px;font-family:'Liberation Sans',sans-serif;font-weight:bold;color:#cd6b4e;transform:scaleX(0.9100);-webkit-text-stroke:0.45px #cd6b4e;">Copperpoint.com/billing-help</div>
<div class="t" style="left:773.00px;top:527.56px;font-size:29.3px;font-family:'Liberation Serif',serif;font-weight:bold;color:#000;transform:scaleX(0.9921);-webkit-text-stroke:0.5px #000;">Here’s your bill.</div>
<div class="t" style="left:753.24px;top:572.57px;font-size:14.6px;font-family:'Liberation Serif',serif;font-weight:bold;color:#fff;transform:scaleX(1.0800);">5.</div>
<div class="t" style="left:772.87px;top:569.33px;font-size:16.5px;font-family:'Liberation Sans',sans-serif;font-weight:bold;color:#000;transform:scaleX(0.9321);-webkit-text-stroke:0.35px #000;">Invoice summary</div>
<div class="t" style="left:773.10px;top:594.43px;font-size:8px;font-family:'Liberation Sans',sans-serif;font-weight:bold;color:#000;transform:scaleX(0.8591);-webkit-text-stroke:0.45px #000;">Line of business</div>
<div class="t" style="left:862.70px;top:594.43px;font-size:8px;font-family:'Liberation Sans',sans-serif;font-weight:bold;color:#000;transform:scaleX(0.8672);-webkit-text-stroke:0.45px #000;">Policy #</div>
<div class="t" style="left:934.30px;top:594.43px;font-size:8px;font-family:'Liberation Sans',sans-serif;font-weight:bold;color:#000;transform:scaleX(0.8819);-webkit-text-stroke:0.45px #000;">Policy period</div>
<div class="t" style="left:1041.10px;top:594.43px;font-size:8px;font-family:'Liberation Sans',sans-serif;font-weight:bold;color:#000;transform:scaleX(0.8891);-webkit-text-stroke:0.45px #000;">Current due</div>
<div class="t" style="left:773.00px;top:606.53px;font-size:8px;font-family:'Liberation Sans',sans-serif;font-weight:bold;color:#000;transform:scaleX(0.8516);-webkit-text-stroke:0.45px #000;">Commercial Auto</div>
<div class="t" style="left:862.70px;top:606.53px;font-size:8px;font-family:'Liberation Sans',sans-serif;font-weight:bold;color:#000;transform:scaleX(0.8688);-webkit-text-stroke:0.45px #000;">XXXXXXXXX</div>
<div class="t" style="left:934.30px;top:606.53px;font-size:8px;font-family:'Liberation Sans',sans-serif;font-weight:bold;color:#000;transform:scaleX(0.9794);-webkit-text-stroke:0.45px #000;">08/01/23 - 08/01/24</div>
<div class="t" style="left:1047.90px;top:606.53px;font-size:8px;font-family:'Liberation Sans',sans-serif;font-weight:bold;color:#000;transform:scaleX(0.9408);-webkit-text-stroke:0.45px #000;">$8,480.00</div>
<div class="t" style="left:773.00px;top:619.33px;font-size:8px;font-family:'Liberation Sans',sans-serif;font-weight:bold;color:#000;transform:scaleX(0.8360);-webkit-text-stroke:0.45px #000;">Workers’ Compensation</div>
<div class="t" style="left:862.70px;top:619.33px;font-size:8px;font-family:'Liberation Sans',sans-serif;font-weight:bold;color:#000;transform:scaleX(0.8688);-webkit-text-stroke:0.45px #000;">XXXXXXXXX</div>
<div class="t" style="left:934.30px;top:619.33px;font-size:8px;font-family:'Liberation Sans',sans-serif;font-weight:bold;color:#000;transform:scaleX(0.9794);-webkit-text-stroke:0.45px #000;">08/01/23 - 08/01/24</div>
<div class="t" style="left:1047.90px;top:619.33px;font-size:8px;font-family:'Liberation Sans',sans-serif;font-weight:bold;color:#000;transform:scaleX(0.9408);-webkit-text-stroke:0.45px #000;">$6,625.00</div>
<div class="t" style="left:773.00px;top:631.53px;font-size:8px;font-family:'Liberation Sans',sans-serif;font-weight:bold;color:#000;transform:scaleX(0.8477);-webkit-text-stroke:0.45px #000;">Commercial Package</div>
<div class="t" style="left:862.70px;top:631.53px;font-size:8px;font-family:'Liberation Sans',sans-serif;font-weight:bold;color:#000;transform:scaleX(0.8688);-webkit-text-stroke:0.45px #000;">XXXXXXXXX</div>
<div class="t" style="left:934.30px;top:631.53px;font-size:8px;font-family:'Liberation Sans',sans-serif;font-weight:bold;color:#000;transform:scaleX(0.9794);-webkit-text-stroke:0.45px #000;">08/01/23 - 08/01/24</div>
<div class="t" style="left:1047.90px;top:631.53px;font-size:8px;font-family:'Liberation Sans',sans-serif;font-weight:bold;color:#000;transform:scaleX(0.9408);-webkit-text-stroke:0.45px #000;">$1,175.00</div>
<div class="t" style="left:773.00px;top:644.33px;font-size:8px;font-family:'Liberation Sans',sans-serif;font-weight:bold;color:#000;transform:scaleX(0.8265);-webkit-text-stroke:0.45px #000;">General Liability</div>
<div class="t" style="left:862.70px;top:644.33px;font-size:8px;font-family:'Liberation Sans',sans-serif;font-weight:bold;color:#000;transform:scaleX(0.8688);-webkit-text-stroke:0.45px #000;">XXXXXXXXX</div>
<div class="t" style="left:934.30px;top:644.33px;font-size:8px;font-family:'Liberation Sans',sans-serif;font-weight:bold;color:#000;transform:scaleX(0.9794);-webkit-text-stroke:0.45px #000;">08/01/23 - 08/01/24</div>
<div class="t" style="left:1047.90px;top:644.33px;font-size:8px;font-family:'Liberation Sans',sans-serif;font-weight:bold;color:#000;transform:scaleX(0.9408);-webkit-text-stroke:0.45px #000;">$8,520.00</div>
<div class="t" style="left:773.00px;top:655.93px;font-size:8px;font-family:'Liberation Sans',sans-serif;font-weight:bold;color:#000;transform:scaleX(0.8083);-webkit-text-stroke:0.45px #000;">Claims Deductible</div>
<div class="t" style="left:1047.90px;top:655.93px;font-size:8px;font-family:'Liberation Sans',sans-serif;font-weight:bold;color:#000;transform:scaleX(0.9408);-webkit-text-stroke:0.45px #000;">$1,000.00</div>
<div class="t" style="left:773.00px;top:669.13px;font-size:8px;font-family:'Liberation Sans',sans-serif;font-weight:bold;color:#000;transform:scaleX(0.8434);-webkit-text-stroke:0.45px #000;">Loss Adjustment Fee</div>
<div class="t" style="left:1054.10px;top:669.13px;font-size:8px;font-family:'Liberation Sans',sans-serif;font-weight:bold;color:#000;transform:scaleX(0.9434);-webkit-text-stroke:0.45px #000;">$500.00</div>
<div class="t" style="left:773.00px;top:681.53px;font-size:8px;font-family:'Liberation Sans',sans-serif;font-weight:bold;color:#000;transform:scaleX(0.8624);-webkit-text-stroke:0.45px #000;">Installment Fee</div>
<div class="t" style="left:1062.80px;top:681.53px;font-size:8px;font-family:'Liberation Sans',sans-serif;font-weight:bold;color:#000;transform:scaleX(0.9285);-webkit-text-stroke:0.45px #000;">$5.00</div>
<div class="t" style="left:959.00px;top:699.53px;font-size:8px;font-family:'Liberation Sans',sans-serif;font-weight:bold;color:#000;transform:scaleX(0.9284);-webkit-text-stroke:0.45px #000;">Current due</div>
<div class="t" style="left:1043.00px;top:699.53px;font-size:8px;font-family:'Liberation Sans',sans-serif;font-weight:bold;color:#000;transform:scaleX(0.9584);-webkit-text-stroke:0.45px #000;">$14,395.00</div>
<div class="t" style="left:1005.80px;top:751.20px;font-size:8.5px;font-family:'Liberation Sans',sans-serif;font-weight:bold;color:#c9c4c3;transform:scaleX(0.9381);-webkit-text-stroke:0.45px #c9c4c3;">Cut here</div>
<div class="t" style="left:773.70px;top:779.01px;font-size:17px;font-family:'Liberation Sans',sans-serif;font-weight:bold;color:#000;transform:scaleX(0.8986);">This is your payment coupon.</div>
<div class="t" style="left:773.70px;top:802.08px;font-size:9px;font-family:'Liberation Sans',sans-serif;font-weight:bold;color:#000;transform:scaleX(0.8477);-webkit-text-stroke:0.45px #000;">Remember, you can pay online at cs.copperpoint.com. Sign up for recurring payments</div>
<div class="t" style="left:774.52px;top:812.28px;font-size:9px;font-family:'Liberation Sans',sans-serif;font-weight:bold;color:#000;transform:scaleX(0.8179);-webkit-text-stroke:0.45px #000;">with no installment fee.</div>
<div class="t" style="left:773.70px;top:835.68px;font-size:9px;font-family:'Liberation Sans',sans-serif;font-weight:bold;color:#000;transform:scaleX(0.8873);-webkit-text-stroke:0.45px #000;">For any address changes/updates contact your agent</div>
<div class="t" style="left:1041.74px;top:823.27px;font-size:14.6px;font-family:'Liberation Serif',serif;font-weight:bold;color:#fff;transform:scaleX(1.0800);">6.</div>
<div class="t" style="left:819.40px;top:859.71px;font-size:10.5px;font-family:'Liberation Sans',sans-serif;font-weight:bold;color:#000;transform:scaleX(0.9003);-webkit-text-stroke:0.1px #000;">COPPERPOINT INSURANCE COMPANIES</div>
<div class="t" style="left:819.40px;top:871.81px;font-size:10.5px;font-family:'Liberation Sans',sans-serif;font-weight:bold;color:#000;transform:scaleX(0.8700);-webkit-text-stroke:0.1px #000;">ATTN: BILLING DEPARTMENT</div>
<div class="t" style="left:819.40px;top:883.91px;font-size:10.5px;font-family:'Liberation Sans',sans-serif;font-weight:bold;color:#000;transform:scaleX(0.9095);-webkit-text-stroke:0.1px #000;">PO BOX 33069</div>
<div class="t" style="left:819.40px;top:896.51px;font-size:10.5px;font-family:'Liberation Sans',sans-serif;font-weight:bold;color:#000;transform:scaleX(0.9068);-webkit-text-stroke:0.1px #000;">PHOENIX ARIZONA 85067-3069</div>
<div class="t" style="left:1135.80px;top:803.78px;font-size:15.8px;font-family:'Liberation Sans',sans-serif;font-weight:normal;color:#fff;transform:scaleX(1.0810);-webkit-text-stroke:0.35px #fff;">$14,395.00</div>
<div class="t" style="left:1148.10px;top:824.21px;font-size:10.5px;font-family:'Liberation Sans',sans-serif;font-weight:normal;color:#fff;transform:scaleX(1.0988);-webkit-text-stroke:0.45px #fff;">Current due</div>
<div class="t" style="left:1104.00px;top:860.53px;font-size:8px;font-family:'Liberation Sans',sans-serif;font-weight:bold;color:#000;transform:scaleX(0.9697);-webkit-text-stroke:0.45px #000;">Due date:</div>
<div class="t" style="left:1216.50px;top:860.53px;font-size:8px;font-family:'Liberation Sans',sans-serif;font-weight:bold;color:#000;transform:scaleX(1.0981);-webkit-text-stroke:0.45px #000;">08/26/24</div>
<div class="t" style="left:1104.00px;top:875.33px;font-size:8px;font-family:'Liberation Sans',sans-serif;font-weight:bold;color:#000;transform:scaleX(0.9769);-webkit-text-stroke:0.45px #000;">Account name:</div>
<div class="t" style="left:1193.20px;top:875.33px;font-size:8px;font-family:'Liberation Sans',sans-serif;font-weight:bold;color:#000;transform:scaleX(0.9601);-webkit-text-stroke:0.45px #000;">ABC COMPANY</div>
<div class="t" style="left:1104.00px;top:899.43px;font-size:8px;font-family:'Liberation Sans',sans-serif;font-weight:bold;color:#000;transform:scaleX(0.9543);-webkit-text-stroke:0.45px #000;">Invoice #</div>
<div class="t" style="left:1207.40px;top:899.43px;font-size:8px;font-family:'Liberation Sans',sans-serif;font-weight:bold;color:#000;transform:scaleX(1.0127);-webkit-text-stroke:0.45px #000;">XXXXXXXX</div>
<div class="t" style="left:1104.00px;top:913.53px;font-size:8px;font-family:'Liberation Sans',sans-serif;font-weight:bold;color:#000;transform:scaleX(0.9586);-webkit-text-stroke:0.45px #000;">Account #</div>
<div class="t" style="left:1201.20px;top:913.53px;font-size:8px;font-family:'Liberation Sans',sans-serif;font-weight:bold;color:#000;transform:scaleX(1.0290);-webkit-text-stroke:0.45px #000;">XXXXXXXXX</div>
<div class="t" style="left:1104.00px;top:927.43px;font-size:8px;font-family:'Liberation Sans',sans-serif;font-weight:bold;color:#000;transform:scaleX(0.9838);-webkit-text-stroke:0.45px #000;">Stream name:</div>
<div class="t" style="left:1206.30px;top:927.43px;font-size:8px;font-family:'Liberation Sans',sans-serif;font-weight:bold;color:#000;transform:scaleX(1.0380);-webkit-text-stroke:0.45px #000;">XXXXXXXX</div>
<div class="t" style="left:738.24px;top:1047.87px;font-size:14.6px;font-family:'Liberation Serif',serif;font-weight:bold;color:#fff;transform:scaleX(1.0800);">7.</div>
<div class="t" style="left:1233.30px;top:1050.13px;font-size:8px;font-family:'Liberation Sans',sans-serif;font-weight:bold;color:#000;transform:scaleX(1.0213);-webkit-text-stroke:0.45px #000;">Page 2 of 2</div>
<div class="t" style="left:751.30px;top:1069.09px;font-size:17.5px;font-family:'Liberation Sans',sans-serif;font-weight:bold;color:#000;transform:scaleX(0.9725);">Activity and adjustments</div>
<div class="t" style="left:751.30px;top:1095.90px;font-size:8.5px;font-family:'Liberation Sans',sans-serif;font-weight:bold;color:#000;transform:scaleX(0.8665);-webkit-text-stroke:0.45px #000;">Date</div>
<div class="t" style="left:811.00px;top:1095.90px;font-size:8.5px;font-family:'Liberation Sans',sans-serif;font-weight:bold;color:#000;transform:scaleX(0.9342);-webkit-text-stroke:0.45px #000;">Description</div>
<div class="t" style="left:906.90px;top:1095.90px;font-size:8.5px;font-family:'Liberation Sans',sans-serif;font-weight:bold;color:#000;transform:scaleX(0.8970);-webkit-text-stroke:0.45px #000;">Policy type</div>
<div class="t" style="left:992.10px;top:1095.90px;font-size:8.5px;font-family:'Liberation Sans',sans-serif;font-weight:bold;color:#000;transform:scaleX(0.8920);-webkit-text-stroke:0.45px #000;">Policy #</div>
<div class="t" style="left:1052.20px;top:1095.90px;font-size:8.5px;font-family:'Liberation Sans',sans-serif;font-weight:bold;color:#000;transform:scaleX(0.9176);-webkit-text-stroke:0.45px #000;">Policy period</div>
<div class="t" style="left:1164.70px;top:1095.90px;font-size:8.5px;font-family:'Liberation Sans',sans-serif;font-weight:bold;color:#000;transform:scaleX(0.8986);-webkit-text-stroke:0.45px #000;">Amount</div>
<div class="t" style="left:1240.90px;top:1095.90px;font-size:8.5px;font-family:'Liberation Sans',sans-serif;font-weight:bold;color:#000;transform:scaleX(0.8974);-webkit-text-stroke:0.45px #000;">Balance</div>
<div class="t" style="left:750.40px;top:1115.08px;font-size:9px;font-family:'Liberation Sans',sans-serif;font-weight:bold;color:#000;transform:scaleX(1.0420);-webkit-text-stroke:0.45px #000;">07/01/24</div>
<div class="t" style="left:812.20px;top:1115.08px;font-size:9px;font-family:'Liberation Sans',sans-serif;font-weight:bold;color:#000;transform:scaleX(0.8579);-webkit-text-stroke:0.45px #000;">Invoice</div>
<div class="t" style="left:1148.70px;top:1115.08px;font-size:9px;font-family:'Liberation Sans',sans-serif;font-weight:bold;color:#000;-webkit-text-stroke:0.45px #000;">$12,395.00</div>
<div class="t" style="left:1225.20px;top:1115.08px;font-size:9px;font-family:'Liberation Sans',sans-serif;font-weight:bold;color:#000;transform:scaleX(1.0036);-webkit-text-stroke:0.45px #000;">$35,414.90</div>
<div class="t" style="left:750.40px;top:1128.93px;font-size:9px;font-family:'Liberation Sans',sans-serif;font-weight:bold;color:#000;transform:scaleX(1.0420);-webkit-text-stroke:0.45px #000;">07/20/24</div>
<div class="t" style="left:812.20px;top:1128.93px;font-size:9px;font-family:'Liberation Sans',sans-serif;font-weight:bold;color:#000;transform:scaleX(0.8876);-webkit-text-stroke:0.45px #000;">Payment received</div>
<div class="t" style="left:1146.00px;top:1128.93px;font-size:9px;font-family:'Liberation Sans',sans-serif;font-weight:bold;color:#000;transform:scaleX(0.9930);-webkit-text-stroke:0.45px #000;">-$12,395.00</div>
<div class="t" style="left:1225.20px;top:1128.93px;font-size:9px;font-family:'Liberation Sans',sans-serif;font-weight:bold;color:#000;transform:scaleX(1.0036);-webkit-text-stroke:0.45px #000;">$22,519.90</div>
<div class="t" style="left:750.40px;top:1142.78px;font-size:9px;font-family:'Liberation Sans',sans-serif;font-weight:bold;color:#000;transform:scaleX(1.0420);-webkit-text-stroke:0.45px #000;">07/25/24</div>
<div class="t" style="left:812.20px;top:1142.78px;font-size:9px;font-family:'Liberation Sans',sans-serif;font-weight:bold;color:#000;transform:scaleX(0.8725);-webkit-text-stroke:0.45px #000;">Policy change</div>
<div class="t" style="left:1161.50px;top:1142.78px;font-size:9px;font-family:'Liberation Sans',sans-serif;font-weight:bold;color:#000;transform:scaleX(0.9899);-webkit-text-stroke:0.45px #000;">$890.00</div>
<div class="t" style="left:1225.20px;top:1142.78px;font-size:9px;font-family:'Liberation Sans',sans-serif;font-weight:bold;color:#000;transform:scaleX(1.0036);-webkit-text-stroke:0.45px #000;">$23,409.90</div>
<div class="t" style="left:750.40px;top:1156.63px;font-size:9px;font-family:'Liberation Sans',sans-serif;font-weight:bold;color:#000;transform:scaleX(1.0392);-webkit-text-stroke:0.45px #000;">08/24</div>
<div class="t" style="left:812.20px;top:1156.63px;font-size:9px;font-family:'Liberation Sans',sans-serif;font-weight:bold;color:#000;transform:scaleX(0.8827);-webkit-text-stroke:0.45px #000;">Claim Deductible Total</div>
<div class="t" style="left:1153.00px;top:1156.63px;font-size:9px;font-family:'Liberation Sans',sans-serif;font-weight:bold;color:#000;transform:scaleX(1.0167);-webkit-text-stroke:0.45px #000;">$1,000.00</div>
<div class="t" style="left:1225.20px;top:1156.63px;font-size:9px;font-family:'Liberation Sans',sans-serif;font-weight:bold;color:#000;transform:scaleX(1.0036);-webkit-text-stroke:0.45px #000;">$24,409.90</div>
<div class="t" style="left:750.40px;top:1170.48px;font-size:9px;font-family:'Liberation Sans',sans-serif;font-weight:bold;color:#000;transform:scaleX(1.0392);-webkit-text-stroke:0.45px #000;">08/24</div>
<div class="t" style="left:812.20px;top:1170.48px;font-size:9px;font-family:'Liberation Sans',sans-serif;font-weight:bold;color:#000;transform:scaleX(0.8527);-webkit-text-stroke:0.45px #000;">Loss Adjustment Fee</div>
<div class="t" style="left:1161.50px;top:1170.48px;font-size:9px;font-family:'Liberation Sans',sans-serif;font-weight:bold;color:#000;transform:scaleX(0.9899);-webkit-text-stroke:0.45px #000;">$500.00</div>
<div class="t" style="left:1225.20px;top:1170.48px;font-size:9px;font-family:'Liberation Sans',sans-serif;font-weight:bold;color:#000;transform:scaleX(1.0036);-webkit-text-stroke:0.45px #000;">$24,909.90</div>
<div class="t" style="left:750.40px;top:1184.33px;font-size:9px;font-family:'Liberation Sans',sans-serif;font-weight:bold;color:#000;transform:scaleX(1.0420);-webkit-text-stroke:0.45px #000;">08/01/24</div>
<div class="t" style="left:812.20px;top:1184.33px;font-size:9px;font-family:'Liberation Sans',sans-serif;font-weight:bold;color:#000;transform:scaleX(0.8579);-webkit-text-stroke:0.45px #000;">Invoice</div>
<div class="t" style="left:1148.70px;top:1184.33px;font-size:9px;font-family:'Liberation Sans',sans-serif;font-weight:bold;color:#000;-webkit-text-stroke:0.45px #000;">$14,300.00</div>
<div class="t" style="left:1225.20px;top:1184.33px;font-size:9px;font-family:'Liberation Sans',sans-serif;font-weight:bold;color:#000;transform:scaleX(1.0036);-webkit-text-stroke:0.45px #000;">$34,909.90</div>
<div class="t" style="left:750.40px;top:1198.18px;font-size:9px;font-family:'Liberation Sans',sans-serif;font-weight:bold;color:#000;transform:scaleX(1.0420);-webkit-text-stroke:0.45px #000;">08/01/24</div>
<div class="t" style="left:812.20px;top:1198.18px;font-size:9px;font-family:'Liberation Sans',sans-serif;font-weight:bold;color:#000;transform:scaleX(0.8713);-webkit-text-stroke:0.45px #000;">Installment fee</div>
<div class="t" style="left:1171.20px;top:1198.18px;font-size:9px;font-family:'Liberation Sans',sans-serif;font-weight:bold;color:#000;-webkit-text-stroke:0.45px #000;">$5.00</div>
<div class="t" style="left:1225.20px;top:1198.18px;font-size:9px;font-family:'Liberation Sans',sans-serif;font-weight:bold;color:#000;transform:scaleX(1.0036);-webkit-text-stroke:0.45px #000;">$34,914.90</div>
<div class="t" style="left:907.20px;top:1142.78px;font-size:9px;font-family:'Liberation Sans',sans-serif;font-weight:bold;color:#000;transform:scaleX(0.8838);-webkit-text-stroke:0.45px #000;">Commercial Auto</div>
<div class="t" style="left:992.00px;top:1142.78px;font-size:9px;font-family:'Liberation Sans',sans-serif;font-weight:bold;color:#000;transform:scaleX(0.8959);-webkit-text-stroke:0.45px #000;">XXXXXXXXX</div>
<div class="t" style="left:1050.00px;top:1142.78px;font-size:9px;font-family:'Liberation Sans',sans-serif;font-weight:bold;color:#000;transform:scaleX(1.0172);-webkit-text-stroke:0.45px #000;">08/01/23 - 08/01/24</div>
<div class="t" style="left:1052.00px;top:1156.63px;font-size:9px;font-family:'Liberation Sans',sans-serif;font-weight:bold;color:#000;transform:scaleX(1.0449);-webkit-text-stroke:0.45px #000;">08/01/24</div>
<div class="t" style="left:751.30px;top:1212.08px;font-size:9px;font-family:'Liberation Sans',sans-serif;font-weight:bold;color:#000;transform:scaleX(0.9141);-webkit-text-stroke:0.45px #000;">(*) Deductible break-out below</div>
<div class="t" style="left:811.60px;top:1239.50px;font-size:8.5px;font-family:'Liberation Sans',sans-serif;font-weight:bold;color:#000;transform:scaleX(0.9754);-webkit-text-stroke:0.45px #000;">Ending balance:</div>
<div class="t" style="left:1225.80px;top:1239.50px;font-size:8.5px;font-family:'Liberation Sans',sans-serif;font-weight:bold;color:#000;transform:scaleX(1.0417);-webkit-text-stroke:0.45px #000;">$34,914.90</div>
<div class="t" style="left:739.14px;top:1279.47px;font-size:14.6px;font-family:'Liberation Serif',serif;font-weight:bold;color:#fff;transform:scaleX(1.0800);">8.</div>
<div class="t" style="left:751.00px;top:1295.21px;font-size:17px;font-family:'Liberation Sans',sans-serif;font-weight:bold;color:#000;transform:scaleX(0.9899);">Claims activity</div>
<div class="t" style="left:751.00px;top:1320.20px;font-size:8.5px;font-family:'Liberation Sans',sans-serif;font-weight:bold;color:#000;transform:scaleX(0.9360);-webkit-text-stroke:0.45px #000;">Date</div>
<div class="t" style="left:811.00px;top:1320.20px;font-size:8.5px;font-family:'Liberation Sans',sans-serif;font-weight:bold;color:#000;transform:scaleX(0.9384);-webkit-text-stroke:0.45px #000;">Description</div>
<div class="t" style="left:915.00px;top:1320.20px;font-size:8.5px;font-family:'Liberation Sans',sans-serif;font-weight:bold;color:#000;transform:scaleX(0.8970);-webkit-text-stroke:0.45px #000;">Policy type</div>
<div class="t" style="left:1029.00px;top:1320.20px;font-size:8.5px;font-family:'Liberation Sans',sans-serif;font-weight:bold;color:#000;transform:scaleX(0.9197);-webkit-text-stroke:0.45px #000;">Policy #</div>
<div class="t" style="left:1106.00px;top:1320.20px;font-size:8.5px;font-family:'Liberation Sans',sans-serif;font-weight:bold;color:#000;transform:scaleX(0.9251);-webkit-text-stroke:0.45px #000;">Policy period</div>
<div class="t" style="left:1240.00px;top:1320.20px;font-size:8.5px;font-family:'Liberation Sans',sans-serif;font-weight:bold;color:#000;transform:scaleX(0.9034);-webkit-text-stroke:0.45px #000;">Balance</div>
<div class="t" style="left:751.00px;top:1340.70px;font-size:8.5px;font-family:'Liberation Sans',sans-serif;font-weight:bold;color:#000;transform:scaleX(1.0723);-webkit-text-stroke:0.45px #000;">07/23</div>
<div class="t" style="left:811.00px;top:1340.70px;font-size:8.5px;font-family:'Liberation Sans',sans-serif;font-weight:bold;color:#000;transform:scaleX(0.9580);-webkit-text-stroke:0.45px #000;">Deductible Claim #125</div>
<div class="t" style="left:915.00px;top:1340.70px;font-size:8.5px;font-family:'Liberation Sans',sans-serif;font-weight:bold;color:#000;transform:scaleX(0.9207);-webkit-text-stroke:0.45px #000;">Workers’ Compensation</div>
<div class="t" style="left:1029.00px;top:1340.70px;font-size:8.5px;font-family:'Liberation Sans',sans-serif;font-weight:bold;color:#000;transform:scaleX(0.9541);-webkit-text-stroke:0.45px #000;">XXXXXXXXX</div>
<div class="t" style="left:1106.00px;top:1340.70px;font-size:8.5px;font-family:'Liberation Sans',sans-serif;font-weight:bold;color:#000;transform:scaleX(1.0811);-webkit-text-stroke:0.45px #000;">08/01/23 - 08/01/24</div>
<div class="t" style="left:1236.70px;top:1340.70px;font-size:8.5px;font-family:'Liberation Sans',sans-serif;font-weight:bold;color:#000;transform:scaleX(1.0743);-webkit-text-stroke:0.45px #000;">$500.00</div>
<div class="t" style="left:751.00px;top:1354.00px;font-size:8.5px;font-family:'Liberation Sans',sans-serif;font-weight:bold;color:#000;transform:scaleX(1.0723);-webkit-text-stroke:0.45px #000;">08/23</div>
<div class="t" style="left:811.00px;top:1354.00px;font-size:8.5px;font-family:'Liberation Sans',sans-serif;font-weight:bold;color:#000;transform:scaleX(0.9580);-webkit-text-stroke:0.45px #000;">Deductible Claim #255</div>
<div class="t" style="left:915.00px;top:1354.00px;font-size:8.5px;font-family:'Liberation Sans',sans-serif;font-weight:bold;color:#000;transform:scaleX(0.9207);-webkit-text-stroke:0.45px #000;">Workers’ Compensation</div>
<div class="t" style="left:1029.00px;top:1354.00px;font-size:8.5px;font-family:'Liberation Sans',sans-serif;font-weight:bold;color:#000;transform:scaleX(0.9541);-webkit-text-stroke:0.45px #000;">XXXXXXXXX</div>
<div class="t" style="left:1106.00px;top:1354.00px;font-size:8.5px;font-family:'Liberation Sans',sans-serif;font-weight:bold;color:#000;transform:scaleX(1.0811);-webkit-text-stroke:0.45px #000;">08/01/23 - 08/01/24</div>
<div class="t" style="left:1236.70px;top:1354.00px;font-size:8.5px;font-family:'Liberation Sans',sans-serif;font-weight:bold;color:#000;transform:scaleX(1.0743);-webkit-text-stroke:0.45px #000;">$250.00</div>
<div class="t" style="left:751.00px;top:1367.30px;font-size:8.5px;font-family:'Liberation Sans',sans-serif;font-weight:bold;color:#000;transform:scaleX(1.0723);-webkit-text-stroke:0.45px #000;">09/23</div>
<div class="t" style="left:811.00px;top:1367.30px;font-size:8.5px;font-family:'Liberation Sans',sans-serif;font-weight:bold;color:#000;transform:scaleX(0.9580);-webkit-text-stroke:0.45px #000;">Deductible Claim #799</div>
<div class="t" style="left:915.00px;top:1367.30px;font-size:8.5px;font-family:'Liberation Sans',sans-serif;font-weight:bold;color:#000;transform:scaleX(0.9207);-webkit-text-stroke:0.45px #000;">Workers’ Compensation</div>
<div class="t" style="left:1029.00px;top:1367.30px;font-size:8.5px;font-family:'Liberation Sans',sans-serif;font-weight:bold;color:#000;transform:scaleX(0.9541);-webkit-text-stroke:0.45px #000;">XXXXXXXXX</div>
<div class="t" style="left:1106.00px;top:1367.30px;font-size:8.5px;font-family:'Liberation Sans',sans-serif;font-weight:bold;color:#000;transform:scaleX(1.0811);-webkit-text-stroke:0.45px #000;">08/01/23 - 08/01/24</div>
<div class="t" style="left:1236.70px;top:1367.30px;font-size:8.5px;font-family:'Liberation Sans',sans-serif;font-weight:bold;color:#000;transform:scaleX(1.0743);-webkit-text-stroke:0.45px #000;">$250.00</div>
<div class="t" style="left:999.06px;top:1553.23px;font-size:38.0px;font-family:'Liberation Sans',sans-serif;font-weight:bold;color:#000;transform:scaleX(0.9423);">C</div>
<div class="t" style="left:1025.50px;top:1558.31px;font-size:32.0px;font-family:'Liberation Sans',sans-serif;font-weight:bold;color:#000;letter-spacing:-0.984px;">opper</div>
<div class="t" style="left:1112.54px;top:1553.23px;font-size:38.0px;font-family:'Liberation Sans',sans-serif;font-weight:normal;color:#8e8c91;transform:scaleX(0.9524);-webkit-text-stroke:1.10px #8e8c91;">P</div>
<div class="t" style="left:1136.50px;top:1558.31px;font-size:32.0px;font-family:'Liberation Sans',sans-serif;font-weight:normal;color:#8e8c91;letter-spacing:-0.598px;-webkit-text-stroke:1.10px #8e8c91;">oint.</div>
<div class="t" style="left:1060.33px;top:1596.11px;font-size:17.0px;font-family:'Liberation Sans',sans-serif;font-weight:bold;color:#8e8c91;transform:scaleX(0.8710);">Insurance Companies</div>
<div class="t" style="left:1000.40px;top:1637.72px;font-size:13.8px;font-family:'Liberation Sans',sans-serif;font-weight:bold;color:#8e8c91;transform:scaleX(0.8954);-webkit-text-stroke:0.50px #8e8c91;">COPPERPOINT  •  ALASKA NATIONAL</div>
<div class="t" style="left:1000.40px;top:1683.69px;font-size:19.5px;font-family:'Liberation Sans',sans-serif;font-weight:bold;color:#000;transform:scaleX(0.9263);">copperpoint.com</div>
</body></html>
